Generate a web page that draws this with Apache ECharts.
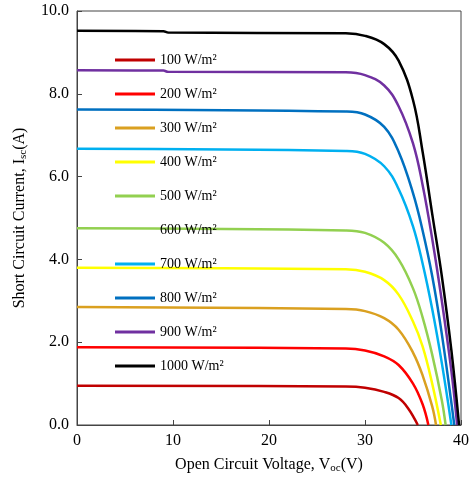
<!DOCTYPE html><html><head><meta charset="utf-8"><script src="https://cdn.jsdelivr.net/npm/echarts@6/dist/echarts.min.js"></script>
<style>html,body{margin:0;padding:0;background:#fff}#c{width:474px;height:488px}</style></head><body><div id="c"></div><script>
const names=['100','200','300','400','500','600','700','800','900','1000'];
const colors=['#C00000','#FF0000','#DAA020','#FFFF00','#92D050','transparent','#00B0F0','#0070C0','#7030A0','#000000'];
const d100=[[0,0.95],[28,0.93],[30,0.9],[32,0.8],[33.5,0.65],[34.5,0.4],[35.5,0]];
const d200=[[0,1.88],[28,1.85],[30,1.8],[32,1.66],[33.5,1.45],[35,1.0],[36,0.5],[36.6,0]];
const d300=[[0,2.85],[28,2.8],[30,2.75],[32,2.58],[33.5,2.3],[35,1.75],[36,1.2],[37,0.45],[37.4,0]];
const d400=[[0,3.8],[28,3.76],[30,3.7],[32,3.5],[33.5,3.15],[35,2.5],[36,1.9],[37,1.0],[37.9,0]];
const d500=[[0,4.75],[28,4.7],[30,4.64],[32,4.4],[33.5,4.0],[35,3.3],[36,2.6],[37,1.7],[38,0.6],[38.4,0]];
const d600=[];
const d700=[[0,6.67],[28,6.62],[30,6.55],[32,6.25],[33.5,5.7],[35,4.8],[36,3.9],[37,2.8],[38,1.5],[39.0,0]];
const d800=[[0,7.62],[28,7.57],[30,7.5],[32,7.2],[33.5,6.6],[35,5.6],[36,4.7],[37,3.6],[38,2.2],[39.3,0]];
const d900=[[0,8.57],[9,8.56],[9.5,8.53],[28,8.52],[30,8.45],[32,8.2],[33.5,7.7],[35,6.8],[36,5.8],[37,4.5],[38,3.0],[39,1.3],[39.6,0]];
const d1000=[[0,9.52],[9,9.51],[9.5,9.48],[28,9.46],[30,9.4],[32,9.2],[33.5,8.8],[35,7.85],[36,6.6],[37,5.1],[38,3.6],[39,1.8],[39.8,0]];
const data=[d100,d200,d300,d400,d500,d600,d700,d800,d900,d1000];
const F='Liberation Serif';
const ch=echarts.init(document.getElementById('c'));
ch.setOption({
 animation:false,
 grid:{left:77,right:13,top:11,bottom:63,show:true,borderColor:'#444',borderWidth:1},
 legend:{orient:'vertical',left:110,top:48,itemGap:20,itemWidth:40,itemHeight:3,icon:'rect',
  data:names.map(n=>n+' W/m²'),textStyle:{fontFamily:F,fontSize:14,color:'#000'}},
 xAxis:{type:'value',min:0,max:40,interval:10,name:'Open Circuit Voltage, V{s|oc}(V)',nameLocation:'middle',nameGap:30,
  nameTextStyle:{fontFamily:F,fontSize:16,color:'#000',rich:{s:{fontFamily:F,fontSize:11,verticalAlign:'bottom',padding:[8,0,0,0]}}},
  axisLine:{lineStyle:{color:'#444'}},axisTick:{inside:true,lineStyle:{color:'#444'}},splitLine:{show:false},
  axisLabel:{fontFamily:F,fontSize:16,color:'#000'}},
 yAxis:{type:'value',min:0,max:10,interval:2,name:'Short Circuit Current, I{s|sc}(A)',nameLocation:'middle',nameGap:48,
  nameTextStyle:{fontFamily:F,fontSize:16,color:'#000',rich:{s:{fontFamily:F,fontSize:11,verticalAlign:'bottom',padding:[8,0,0,0]}}},
  axisLine:{show:true,lineStyle:{color:'#444'}},axisTick:{show:true,inside:true,lineStyle:{color:'#444'}},splitLine:{show:false},
  axisLabel:{fontFamily:F,fontSize:16,color:'#000',formatter:v=>v.toFixed(1)}},
 series:names.map((n,i)=>({name:n+' W/m²',type:'line',data:data[i],smooth:0.4,showSymbol:false,
  lineStyle:{width:2.5,color:colors[i]},itemStyle:{color:colors[i]}}))
});
</script></body></html>
